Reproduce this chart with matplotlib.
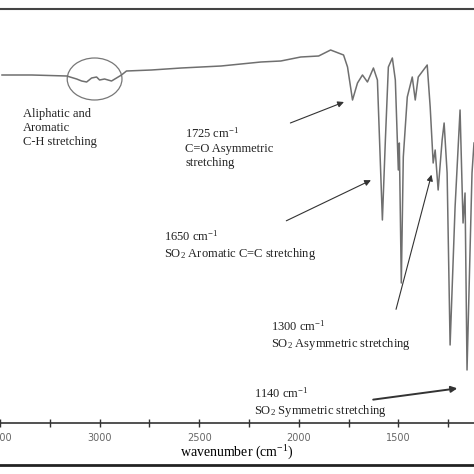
import matplotlib
matplotlib.use("Agg")
import matplotlib.pyplot as plt
from matplotlib.patches import Ellipse

plt.rcParams['mathtext.fontset'] = 'custom'
plt.rcParams['mathtext.rm'] = 'Liberation Serif'
plt.rcParams['mathtext.it'] = 'Liberation Serif'

# spectrum: pixel-read positions -> wavenumber, transmittance (arbitrary units)
px = [0, 30, 65, 75, 80, 85, 90, 95, 98, 103, 110, 115, 120, 125, 150, 180, 220, 260, 280, 300, 318,
      330, 343, 347, 352, 357, 362, 367, 373, 377, 382, 385, 388, 392, 395, 397, 398, 399, 401, 403,
      407, 412, 415, 418, 427, 430, 433, 435, 438, 442, 444, 447, 450, 455, 460, 463, 465, 467, 472, 474]
py = [75, 75, 76, 79, 81, 82, 78, 77, 80, 79, 81, 78, 75, 71, 70, 68, 66, 62, 61, 57, 56,
      50, 55, 67, 100, 83, 75, 82, 68, 80, 220, 140, 67, 58, 80, 140, 170, 143, 283, 157,
      97, 77, 100, 77, 65, 107, 163, 150, 190, 140, 123, 173, 345, 207, 110, 223, 193, 370, 173, 143]
wavenumber = [3000 - (p - 98) * 5 for p in px]
transmittance = [423 - v for v in py]

labels = ["Aliphatic and\nAromatic\nC-H stretching",
          "1725 cm$^{\\mathregular{-1}}$\nC=O Asymmetric\nstretching",
          "1650 cm$^{\\mathregular{-1}}$\nSO$_{\\mathregular{2}}$ Aromatic C=C stretching",
          "1300 cm$^{\\mathregular{-1}}$\nSO$_{\\mathregular{2}}$ Asymmetric stretching",
          "1140 cm$^{\\mathregular{-1}}$\nSO$_{\\mathregular{2}}$ Symmetric stretching"]

def X(p): return 3000 - (p - 98) * 5
def Y(p): return 423 - p

fig = plt.figure(figsize=(4.74, 4.74), dpi=100)
ax = fig.add_axes([0, 51/474, 1, 414/474])
ax.plot(wavenumber, transmittance, color='#6f6f6f', lw=1.1)
ax.set_xlim(X(0), X(474))
ax.set_ylim(0, 414)
for s in ['left', 'right']:
    ax.spines[s].set_visible(False)
ax.spines['top'].set_color('#444444'); ax.spines['top'].set_linewidth(1.5)
ax.spines['bottom'].set_color('#333333'); ax.spines['bottom'].set_linewidth(1.2)
ax.set_yticks([])
ax.set_xticks([3500, 3000, 2500, 2000, 1500])
ax.set_xticks([3250, 2750, 2250, 1750, 1250], minor=True)
ax.tick_params(axis='x', which='both', direction='inout', length=6, width=1, colors='#333333',
               labelsize=7, labelcolor='#666666', pad=4)
ax.set_xticklabels(['3500', '3000', '2500', '2000', '1500'], family='DejaVu Sans')
ax.set_xlabel('wavenumber (cm$^{\\mathregular{-1}}$)', family='Liberation Serif', fontsize=10, labelpad=1)

fig.add_artist(plt.Line2D([0, 1], [1 - 465/474, 1 - 465/474], color='#222222', lw=2))

ax.add_patch(Ellipse((X(93), Y(79)), 55 * 5, 42, fill=False, ec='#777777', lw=0.9))

tk = dict(family='Liberation Serif', fontsize=9, color='#222222', va='top', ha='left', linespacing=1.25)
ax.text(X(21), Y(108), labels[0], **tk)
ax.text(X(184), Y(126), labels[1], **tk)
ax.text(X(163), Y(229), labels[2], **tk)
ax.text(X(270), Y(319), labels[3], **tk)
ax.text(X(253), Y(386), labels[4], **tk)

def arrow(p0, p1, lw=0.8):
    ax.annotate('', xy=(X(p1[0]), Y(p1[1])), xytext=(X(p0[0]), Y(p0[1])),
                arrowprops=dict(arrowstyle='-|>', color='#333333', lw=lw, mutation_scale=9))
arrow((287, 124), (346, 101))
arrow((283, 222), (373, 179))
arrow((395, 312), (432, 172))
arrow((370, 400), (460, 388), lw=1.4)

fig.savefig('out.png', dpi=100)
